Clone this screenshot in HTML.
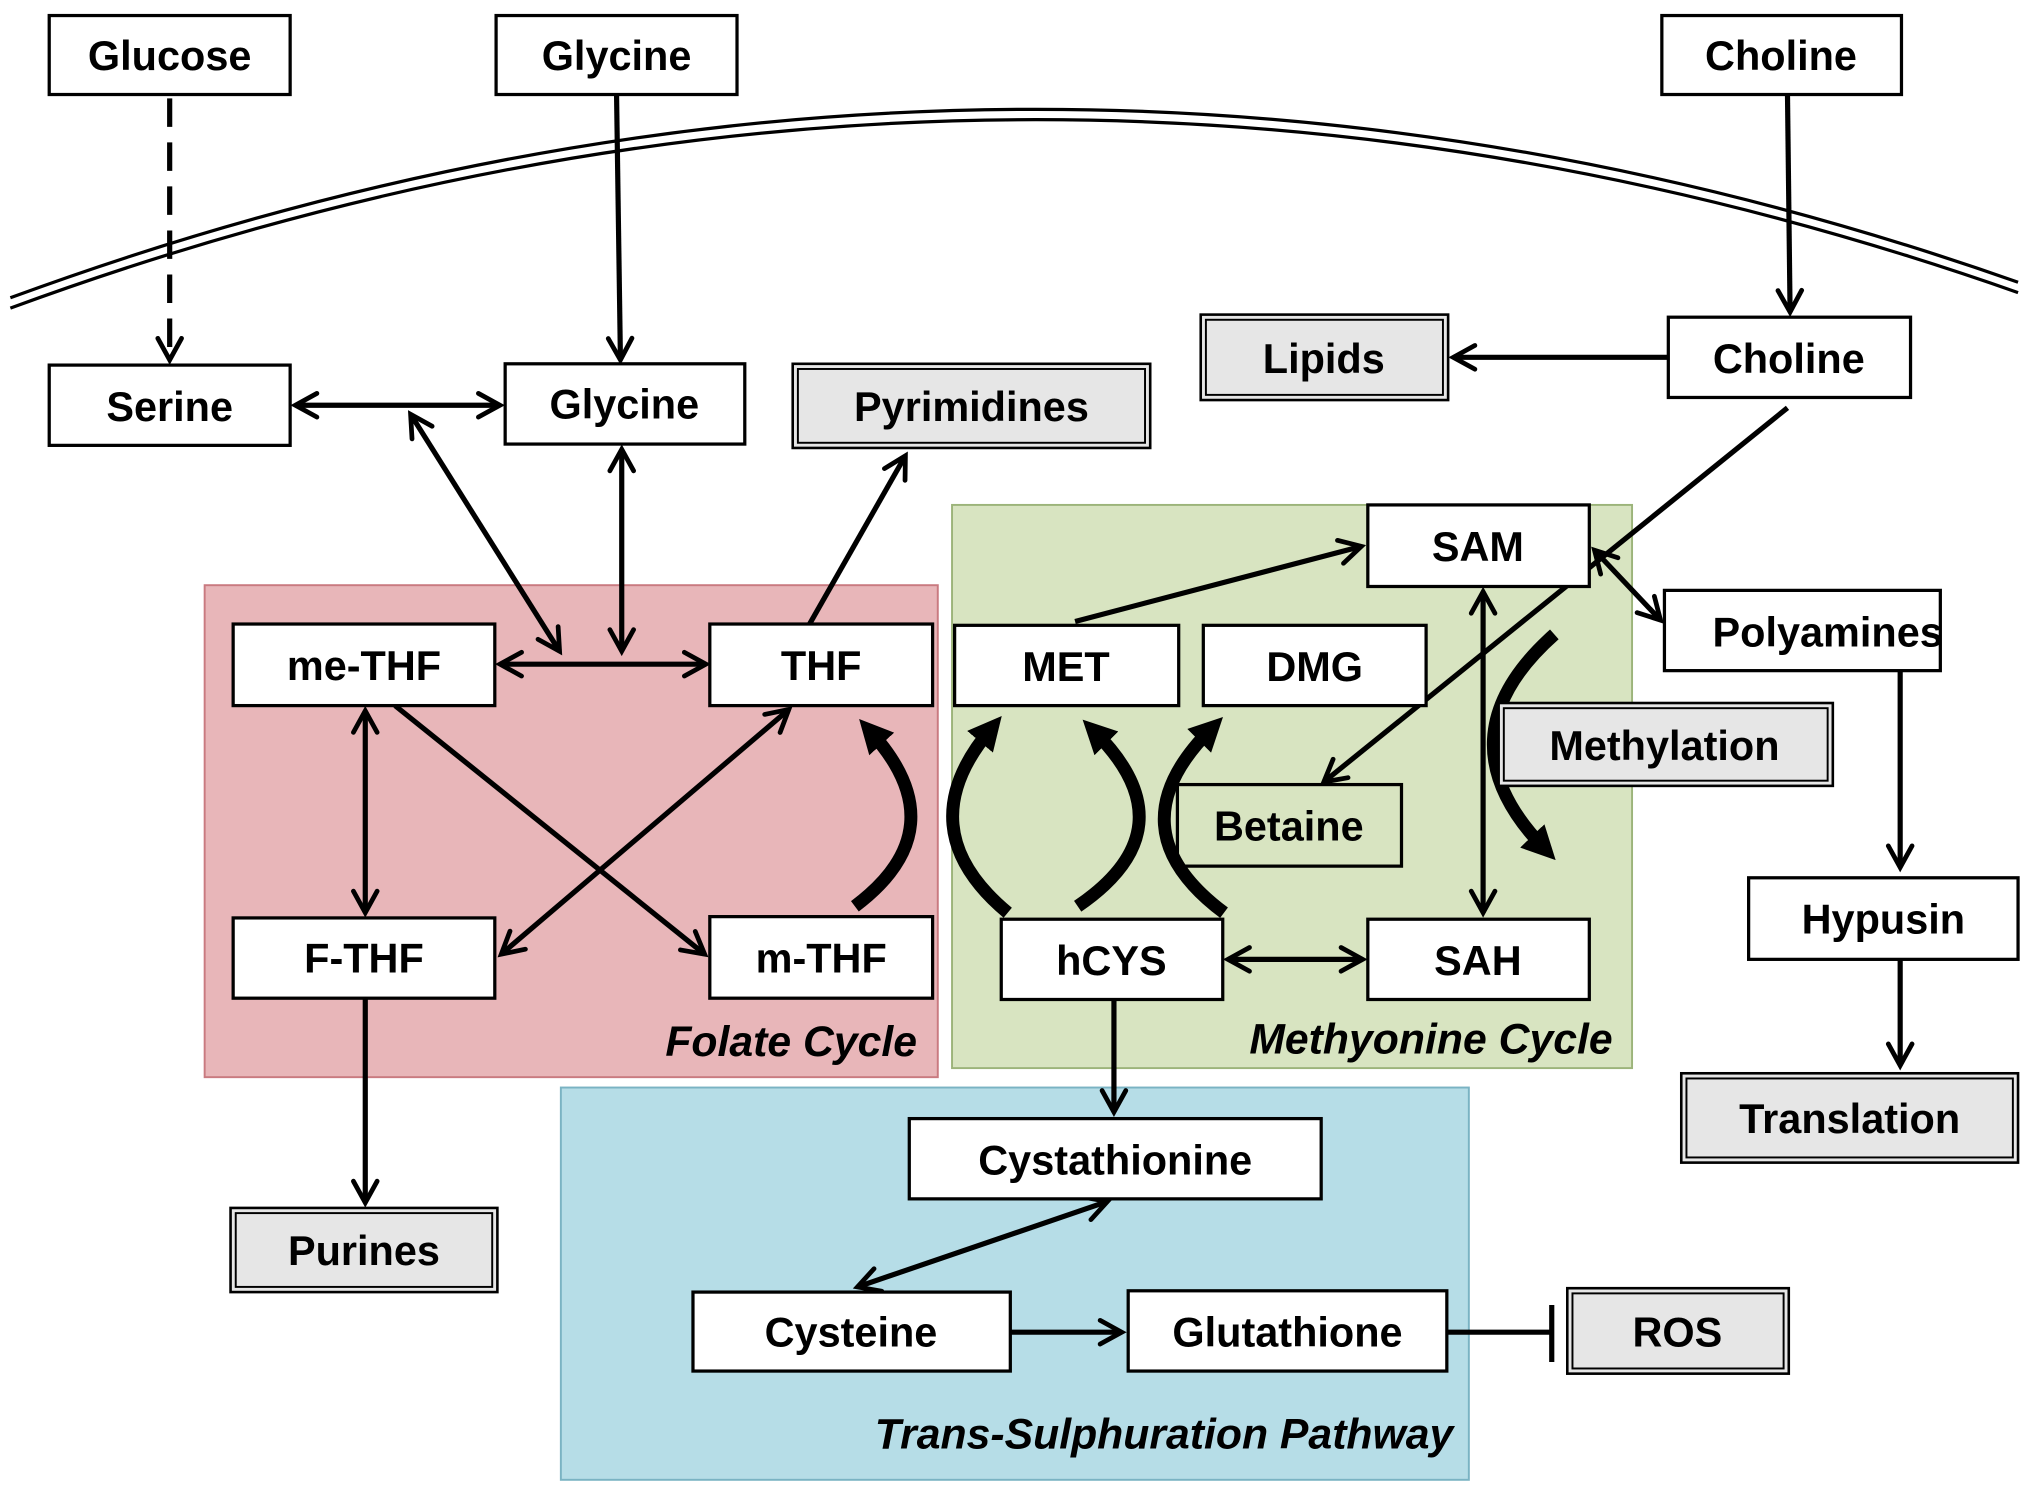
<!DOCTYPE html>
<html><head><meta charset="utf-8"><style>
html,body{margin:0;padding:0;background:#fff;}
svg{display:block;}
text{font-family:"Liberation Sans",sans-serif;font-weight:bold;}
</style></head><body>
<svg width="2031" height="1507" viewBox="0 0 1568 1164" preserveAspectRatio="none" xmlns="http://www.w3.org/2000/svg">
<defs>
<marker id="a" viewBox="0 0 12 12" refX="11" refY="6" markerWidth="20" markerHeight="20" markerUnits="userSpaceOnUse" orient="auto-start-reverse" style="overflow:visible">
<path d="M1,0.5 L11,6 L1,11.5" fill="none" stroke="#000" stroke-width="2.2" stroke-linecap="round"/>
</marker>
<marker id="h" viewBox="0 0 10 10" refX="5" refY="5" markerWidth="2.6" markerHeight="2.6" orient="auto">
<path d="M0,0 L10,5 L0,10 Z" fill="#000"/>
</marker>
</defs>
<style>
.l{stroke:#000;stroke-width:4;fill:none;}
.b{fill:#fff;stroke:#000;stroke-width:2.5;}
.g{fill:#e6e6e6;stroke:#000;stroke-width:2;}
.t{font-size:32px;text-anchor:middle;dominant-baseline:central;}
.c{stroke:#000;stroke-width:10;fill:none;}
</style>
<rect x="158" y="452" width="566" height="380" fill="#e8b6b9" stroke="#c97a80" stroke-width="1.5"/>
<rect x="735" y="390" width="525" height="435" fill="#d8e4c1" stroke="#9cb47a" stroke-width="1.5"/>
<rect x="433" y="840" width="701" height="303" fill="#b6dde7" stroke="#7ab3c3" stroke-width="1.5"/>
<path d="M8,230 Q783,-55 1558,218" fill="none" stroke="#000" stroke-width="2.5"/>
<path d="M8,238 Q783,-47 1558,226" fill="none" stroke="#000" stroke-width="2.5"/>
<line x1="131" y1="76" x2="131" y2="278" class="l" stroke-dasharray="22,12" marker-end="url(#a)"/>
<line x1="476" y1="73" x2="479" y2="278" class="l" marker-end="url(#a)"/>
<line x1="1380" y1="73" x2="1382" y2="241" class="l" marker-end="url(#a)"/>
<line x1="228" y1="313" x2="386" y2="313" class="l" marker-start="url(#a)" marker-end="url(#a)"/>
<line x1="317" y1="320" x2="432" y2="503" class="l" marker-start="url(#a)" marker-end="url(#a)"/>
<line x1="480" y1="347" x2="480" y2="503" class="l" marker-start="url(#a)" marker-end="url(#a)"/>
<line x1="386" y1="513" x2="545" y2="513" class="l" marker-start="url(#a)" marker-end="url(#a)"/>
<line x1="625" y1="482" x2="699" y2="352" class="l" marker-end="url(#a)"/>
<line x1="282" y1="549" x2="282" y2="705" class="l" marker-start="url(#a)" marker-end="url(#a)"/>
<line x1="305" y1="545" x2="544" y2="737" class="l" marker-end="url(#a)"/>
<line x1="387" y1="737" x2="609" y2="548" class="l" marker-start="url(#a)" marker-end="url(#a)"/>
<line x1="282" y1="771" x2="282" y2="929" class="l" marker-end="url(#a)"/>
<line x1="830" y1="480" x2="1051" y2="422" class="l" marker-end="url(#a)"/>
<line x1="1380" y1="315" x2="1022" y2="604" class="l" marker-end="url(#a)"/>
<line x1="1231" y1="425" x2="1282" y2="479" class="l" marker-start="url(#a)" marker-end="url(#a)"/>
<line x1="1145" y1="457" x2="1145" y2="705" class="l" marker-start="url(#a)" marker-end="url(#a)"/>
<line x1="1467" y1="518" x2="1467" y2="670" class="l" marker-end="url(#a)"/>
<line x1="1467" y1="741" x2="1467" y2="823" class="l" marker-end="url(#a)"/>
<line x1="1288" y1="276" x2="1122" y2="276" class="l" marker-end="url(#a)"/>
<line x1="948" y1="741" x2="1052" y2="741" class="l" marker-start="url(#a)" marker-end="url(#a)"/>
<line x1="860" y1="772" x2="860" y2="859" class="l" marker-end="url(#a)"/>
<line x1="855" y1="928" x2="662" y2="994" class="l" marker-start="url(#a)" marker-end="url(#a)"/>
<line x1="780" y1="1029" x2="866" y2="1029" class="l" marker-end="url(#a)"/>
<line x1="1117" y1="1029" x2="1198" y2="1029" class="l"/>
<line x1="1198" y1="1008" x2="1198" y2="1052" class="l"/>
<path d="M660,700 Q740,640 672,565" class="c" marker-end="url(#h)"/>
<path d="M778,705 Q700,640 765,563" class="c" marker-end="url(#h)"/>
<path d="M832,700 Q920,640 845,565" class="c" marker-end="url(#h)"/>
<path d="M945,705 Q858,640 935,563" class="c" marker-end="url(#h)"/>
<path d="M1200,490 Q1110,570 1192,655" class="c" marker-end="url(#h)"/>
<rect x="38" y="12" width="186" height="61" class="b"/><text x="131" y="43" class="t">Glucose</text>
<rect x="383" y="12" width="186" height="61" class="b"/><text x="476" y="43" class="t">Glycine</text>
<rect x="1283" y="12" width="185" height="61" class="b"/><text x="1375" y="43" class="t">Choline</text>
<rect x="38" y="282" width="186" height="62" class="b"/><text x="131" y="314" class="t">Serine</text>
<rect x="390" y="281" width="185" height="62" class="b"/><text x="482" y="312" class="t">Glycine</text>
<rect x="612" y="281" width="276" height="65" class="g"/><rect x="616" y="285" width="268" height="57" fill="none" stroke="#000" stroke-width="1.5"/><text x="750" y="314" class="t">Pyrimidines</text>
<rect x="927" y="243" width="191" height="66" class="g"/><rect x="931" y="247" width="183" height="58" fill="none" stroke="#000" stroke-width="1.5"/><text x="1022" y="277" class="t">Lipids</text>
<rect x="1288" y="245" width="187" height="62" class="b"/><text x="1381" y="277" class="t">Choline</text>
<rect x="180" y="482" width="202" height="63" class="b"/><text x="281" y="514" class="t">me-THF</text>
<rect x="548" y="482" width="172" height="63" class="b"/><text x="634" y="514" class="t">THF</text>
<rect x="180" y="709" width="202" height="62" class="b"/><text x="281" y="740" class="t">F-THF</text>
<rect x="548" y="708" width="172" height="63" class="b"/><text x="634" y="740" class="t">m-THF</text>
<rect x="737" y="483" width="173" height="62" class="b"/><text x="823" y="515" class="t">MET</text>
<rect x="929" y="483" width="172" height="62" class="b"/><text x="1015" y="515" class="t">DMG</text>
<rect x="1056" y="390" width="171" height="63" class="b"/><text x="1141" y="422" class="t">SAM</text>
<rect x="1285" y="456" width="213" height="62" class="b"/><text x="1411" y="488" class="t">Polyamines</text>
<rect x="1157" y="543" width="258" height="64" class="g"/><rect x="1161" y="547" width="250" height="56" fill="none" stroke="#000" stroke-width="1.5"/><text x="1285" y="576" class="t">Methylation</text>
<rect x="909" y="606" width="173" height="63" fill="none" stroke="#000" stroke-width="2.5"/><text x="995" y="638" class="t">Betaine</text>
<rect x="773" y="710" width="171" height="62" class="b"/><text x="858" y="742" class="t">hCYS</text>
<rect x="1056" y="710" width="171" height="62" class="b"/><text x="1141" y="742" class="t">SAH</text>
<rect x="1350" y="678" width="208" height="63" class="b"/><text x="1454" y="710" class="t">Hypusin</text>
<rect x="1298" y="829" width="260" height="69" class="g"/><rect x="1302" y="833" width="252" height="61" fill="none" stroke="#000" stroke-width="1.5"/><text x="1428" y="864" class="t">Translation</text>
<rect x="178" y="933" width="206" height="65" class="g"/><rect x="182" y="937" width="198" height="57" fill="none" stroke="#000" stroke-width="1.5"/><text x="281" y="966" class="t">Purines</text>
<rect x="702" y="864" width="318" height="62" class="b"/><text x="861" y="896" class="t">Cystathionine</text>
<rect x="535" y="998" width="245" height="61" class="b"/><text x="657" y="1029" class="t">Cysteine</text>
<rect x="871" y="997" width="246" height="62" class="b"/><text x="994" y="1029" class="t">Glutathione</text>
<rect x="1210" y="995" width="171" height="66" class="g"/><rect x="1214" y="999" width="163" height="58" fill="none" stroke="#000" stroke-width="1.5"/><text x="1295" y="1029" class="t">ROS</text>
<text x="708" y="805" font-size="33" font-style="italic" text-anchor="end" dominant-baseline="central">Folate Cycle</text>
<text x="1245" y="803" font-size="33" font-style="italic" text-anchor="end" dominant-baseline="central">Methyonine Cycle</text>
<text x="1122" y="1108" font-size="33" font-style="italic" text-anchor="end" dominant-baseline="central">Trans-Sulphuration Pathway</text>
</svg>
</body></html>
